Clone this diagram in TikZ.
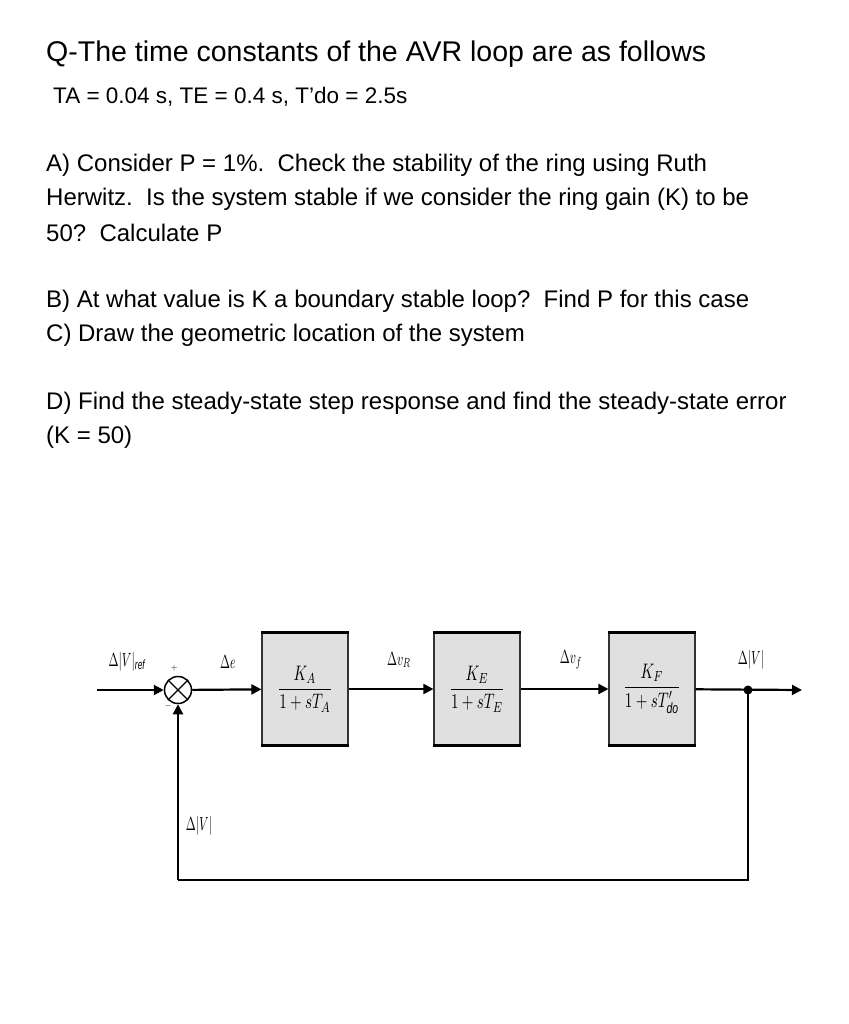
\documentclass[tikz,border=0pt]{standalone}
\usepackage{fontspec}
\setmainfont{Liberation Sans}
\usetikzlibrary{arrows.meta}
\begin{document}
\begin{tikzpicture}[x=1pt,y=-1pt,
  txt/.style={anchor=west,inner sep=0pt,font=\fontsize{24}{28}\selectfont},
  blk/.style={draw=black!80,line width=1.2pt,fill=black!12,minimum width=86pt,minimum height=112pt,inner sep=0pt},
  sig/.style={line width=2.2pt,-{Triangle[length=10pt,width=10pt]}},
  lbl/.style={inner sep=0pt}]
\useasboundingbox (0,0) rectangle (848,1024);
\node[txt,font=\fontsize{28.5}{32}\selectfont] (t0) at (46,54) {Q-The time constants of the AVR loop are as follows};
\node[txt,font=\fontsize{22.5}{26}\selectfont] (t1) at (53,97) {TA = 0.04 s, TE = 0.4 s, T'do = 2.5s};
\node[txt] (t2) at (46,165) {A) Consider P = 1\%.\ \ Check the stability of the ring using Ruth};
\node[txt] (t3) at (46,199) {Herwitz.\ \ Is the system stable if we consider the ring gain (K) to be};
\node[txt] (t4) at (46,233) {50?\ \ Calculate P};
\node[txt] (t5) at (46,301) {B) At what value is K a boundary stable loop?\ \ Find P for this case};
\node[txt] (t6) at (46,335) {C) Draw the geometric location of the system};
\node[txt] (t7) at (46,403) {D) Find the steady-state step response and find the steady-state error};
\node[txt] (t8) at (46,437) {(K = 50)};

\coordinate (in) at (97,690);
\node[draw,circle,line width=1.5pt,minimum size=27pt,inner sep=0pt] (sum) at (178,690) {};
\draw[line width=1.3pt] (sum.north west)--(sum.south east) (sum.north east)--(sum.south west);
\node[blk] (b1) at (305,689) {\scalebox{1.5}[2.1]{$\displaystyle\frac{K_A}{1+sT_A}$}};
\node[blk] (b2) at (477,689) {\scalebox{1.5}[2.1]{$\displaystyle\frac{K_E}{1+sT_E}$}};
\node[blk] (b3) at (652,689) {\scalebox{1.5}[2.1]{$\displaystyle\frac{K_F}{1+sT'_{\mathit{do}}}$}};
\foreach \b in {b1,b2,b3}{\draw[line width=3pt] (\b.north west)--(\b.north east) (\b.south west)--(\b.south east);}
\coordinate (out) at (802,690);
\coordinate (br) at (748,690);
\coordinate (bl) at (748,880);
\coordinate (fl) at (178,880);
\draw[sig] (in)--(sum);
\draw[sig] (sum)--(b1);
\draw[sig] (b1)--(b2);
\draw[sig] (b2)--(b3);
\draw[sig] (b3)--(out);
\fill (br) circle (4.5pt);
\draw[line width=2.2pt] (br)--(bl)--(fl);
\draw[sig] (fl)--(sum);
\node[lbl] (l1) at (127,662) {\scalebox{1.2}[1.9]{$\Delta|V|_{\mathit{ref}}$}};
\node[lbl] (lp) at (174,668) {\scalebox{0.9}{$+$}};
\node[lbl] (lm) at (168,706) {\scalebox{0.9}{$-$}};
\node[lbl] (l2) at (228,662) {\scalebox{1.2}[1.9]{$\Delta e$}};
\node[lbl] (l3) at (399,660) {\scalebox{1.2}[1.9]{$\Delta v_R$}};
\node[lbl] (l4) at (571,660) {\scalebox{1.2}[1.9]{$\Delta v_f$}};
\node[lbl] (l5) at (751,660) {\scalebox{1.2}[1.9]{$\Delta|V|$}};
\node[lbl] (l6) at (199,826) {\scalebox{1.2}[1.9]{$\Delta|V|$}};
\end{tikzpicture}
\end{document}
